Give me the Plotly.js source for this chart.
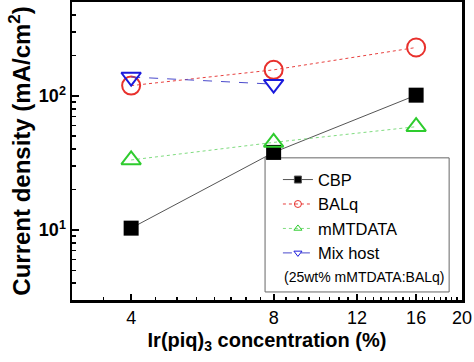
<!DOCTYPE html>
<html>
<head>
<meta charset="utf-8">
<script src="https://cdn.plot.ly/plotly-3.0.1.min.js"></script>
<style>html,body{margin:0;padding:0;background:#fff;}#chart{width:474px;height:362px;}</style>
</head>
<body>
<div id="chart"></div>
<script>
var concentrations = [4, 8, 16];
var mixConcentrations = [4, 8];
var cbp = [10.3, 37.8, 101];
var balq = [119, 156, 229];
var mmtdata = [33.2, 44.9, 58.8];
var mixHost = [138, 122];
var seriesNames = ["CBP", "BALq", "mMTDATA", "Mix host"];
var xTickVals = [4, 8, 12, 16, 20];
var xTickText = ["4", "8", "12", "16", "20"];
var yTickVals = [10, 100];
var yTickText = ["<b>10<sup>1</sup></b>", "<b>10<sup>2</sup></b>"];
var noteText = "(25wt% mMTDATA:BALq)";

var xMinor = [];
for (var v = 3; v <= 20; v += 0.5) { if (xTickVals.indexOf(v) < 0) xMinor.push(v); }
var yMinor = [];
[1, 10, 100].forEach(function (d) { for (var k = 2; k <= 9; k++) { var t = d * k; if (t >= 3 && t <= 500 && t !== 10 && t !== 100) yMinor.push(t); } });

var styles = [
  {line: {color: "#555555", width: 1, dash: "solid"}, marker: {symbol: "square", color: "#000000", size: 15, line: {width: 0}}},
  {line: {color: "#e8413f", width: 1, dash: "dot"}, marker: {symbol: "circle-open", color: "#e8302c", size: 18, line: {width: 2}}},
  {line: {color: "#7fdc7f", width: 1, dash: "dot"}, marker: {symbol: "triangle-up-open", color: "#2ecc2e", size: 17, line: {width: 2}}},
  {line: {color: "#4a4acc", width: 1, dash: "dash"}, marker: {symbol: "triangle-down-open", color: "#1a1adc", size: 17, line: {width: 2}}}
];
var xs = [concentrations, concentrations, concentrations, mixConcentrations];
var ys = [cbp, balq, mmtdata, mixHost];

var traces = [];
for (var i = 0; i < 4; i++) {
  traces.push({x: xs[i], y: ys[i], type: "scatter", mode: "lines+markers", name: seriesNames[i],
    line: styles[i].line, marker: styles[i].marker, showlegend: false});
}
for (var j = 0; j < 4; j++) {
  var m = JSON.parse(JSON.stringify(styles[j].marker));
  m.size = 7; if (m.line) m.line.width = 1;
  traces.push({x: [null], y: [null], type: "scatter", mode: "lines+markers", name: seriesNames[j],
    line: styles[j].line, marker: m, showlegend: true});
}

var font = "Liberation Sans, Arial, sans-serif";
var layout = {
  width: 474, height: 362,
  margin: {l: 72, r: 12, t: 2, b: 62},
  paper_bgcolor: "#ffffff", plot_bgcolor: "#ffffff",
  font: {family: font, color: "#000000", size: 17},
  showlegend: true,
  legend: {x: 0.528, y: 0.462, xanchor: "left", yanchor: "top", bgcolor: "rgba(0,0,0,0)",
    borderwidth: 0, font: {size: 16.5, family: font}, tracegroupgap: 0, itemwidth: 30},
  xaxis: {type: "log", range: [Math.log10(3), Math.log10(20)], tickmode: "array", tickvals: xTickVals, ticktext: xTickText,
    ticks: "inside", ticklen: 6, tickwidth: 2, tickcolor: "#000", showgrid: false, zeroline: false,
    showline: true, linewidth: 2.5, linecolor: "#000", mirror: true,
    tickfont: {size: 18, family: font},
    minor: {tickmode: "array", tickvals: xMinor, ticks: "inside", ticklen: 3, tickwidth: 1.5, tickcolor: "#000", showgrid: false},
    title: {text: "<b>Ir(piq)<sub>3</sub> concentration (%)</b>", font: {size: 20, family: font}, standoff: 6}},
  yaxis: {type: "log", range: [Math.log10(3), Math.log10(500)], tickmode: "array", tickvals: yTickVals, ticktext: yTickText,
    ticks: "inside", ticklen: 7, tickwidth: 2, tickcolor: "#000", showgrid: false, zeroline: false,
    showline: true, linewidth: 2.5, linecolor: "#000", mirror: true,
    tickfont: {size: 18, family: font},
    minor: {tickmode: "array", tickvals: yMinor, ticks: "inside", ticklen: 4, tickwidth: 1.5, tickcolor: "#000", showgrid: false},
    title: {text: "<b>Current density (mA/cm<sup>2</sup>)</b>", font: {size: 24, family: font}, standoff: 2}},
  shapes: [{type: "rect", xref: "paper", yref: "paper", x0: 0.495, x1: 0.967, y0: 0.027, y1: 0.477,
    line: {color: "#666666", width: 1}, fillcolor: "rgba(255,255,255,1)", layer: "below"}],
  annotations: [{xref: "paper", yref: "paper", x: 0.75, y: 0.077, xanchor: "center", yanchor: "middle", showarrow: false,
    text: noteText, font: {size: 14, family: font}}]
};
Plotly.newPlot("chart", traces, layout, {displayModeBar: false, staticPlot: true});
</script>
</body>
</html>
